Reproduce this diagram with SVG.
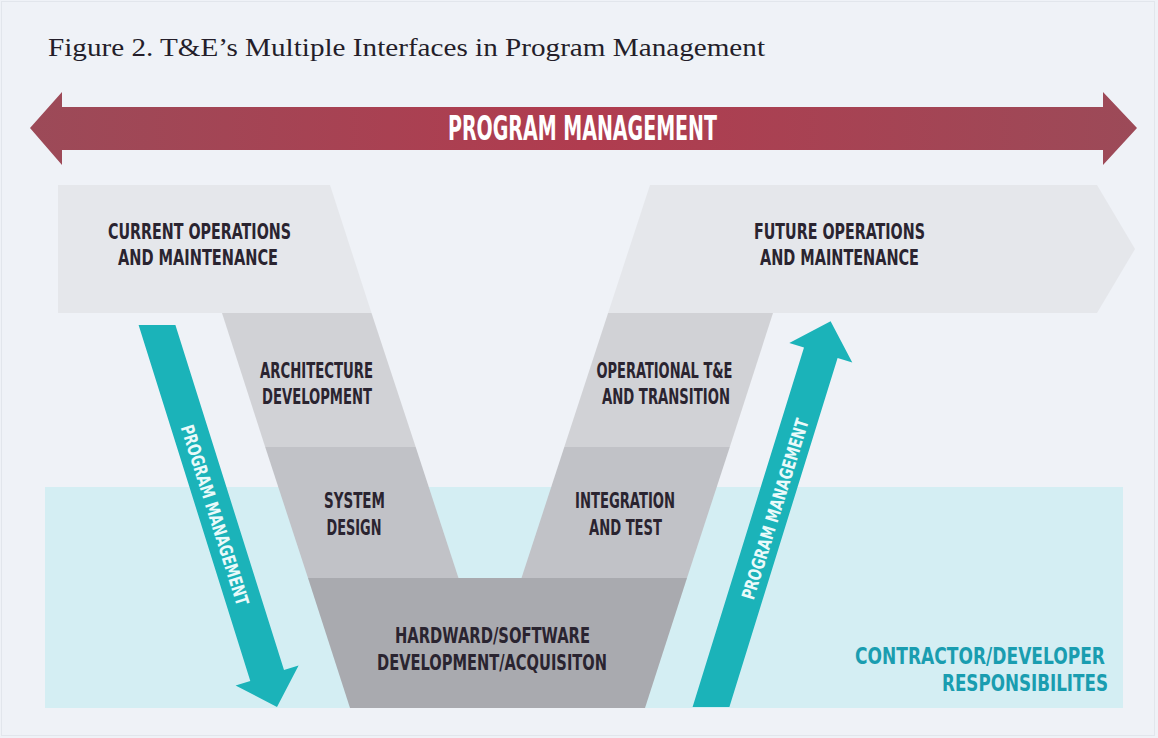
<svg xmlns="http://www.w3.org/2000/svg" width="1158" height="738" viewBox="0 0 1158 738">
  <defs>
    <linearGradient id="redGrad" x1="0" y1="0" x2="1" y2="0">
      <stop offset="0" stop-color="#9c4a58"/>
      <stop offset="0.5" stop-color="#b03c4f"/>
      <stop offset="1" stop-color="#9c4a58"/>
    </linearGradient>
  </defs>
  <style>
    .lbl { font-family: "Liberation Sans Narrow", "DejaVu Sans Condensed", "Liberation Sans", sans-serif; font-weight: bold; font-size: 21px; fill: #2a2430; text-anchor: middle; }
    .pm { font-family: "Liberation Sans Narrow", "DejaVu Sans Condensed", "Liberation Sans", sans-serif; font-weight: bold; fill: #eafafa; text-anchor: middle; font-size: 18px; }
    .g1 { fill: #e5e7eb; }
    .g2 { fill: #d1d2d6; }
    .g3 { fill: #c1c2c7; }
    .g4 { fill: #a9aaaf; }
    .teal { fill: #1bb3b9; }
    .contr { font-family: "Liberation Sans Narrow", "DejaVu Sans Condensed", "Liberation Sans", sans-serif; font-weight: bold; font-size: 23px; fill: #1a9db0; text-anchor: middle; }
  </style>

  <rect x="0" y="0" width="1158" height="738" fill="#eff2f7"/>
  <rect x="1.5" y="1.5" width="1153" height="734" fill="none" stroke="#e2e6ec" stroke-width="1"/>

  <text id="title" x="48" y="56" font-family="Liberation Serif, serif" font-size="25" fill="#241e2a" textLength="717" lengthAdjust="spacingAndGlyphs">Figure 2. T&amp;E’s Multiple Interfaces in Program Management</text>

  <g id="program-management-bar">
    <polygon points="30,128 62,92 62,107 1103,107 1103,92 1137,128 1103,165 1103,150 62,150 62,165" fill="url(#redGrad)"/>
    <text x="582.5" y="140" font-family="Liberation Sans Narrow, DejaVu Sans Condensed, Liberation Sans, sans-serif" font-weight="bold" font-size="33" fill="#ffffff" text-anchor="middle" textLength="269" lengthAdjust="spacingAndGlyphs">PROGRAM MANAGEMENT</text>
  </g>

  <g id="contractor-zone">
    <rect x="45" y="487" width="1078" height="221" fill="#d4eef3"/>
    <text class="contr" x="980" y="664" font-size="22" textLength="250" lengthAdjust="spacingAndGlyphs">CONTRACTOR/DEVELOPER</text>
    <text class="contr" x="1025" y="691" textLength="166" lengthAdjust="spacingAndGlyphs">RESPONSIBILITES</text>
  </g>

  <g id="current-ops">
    <polygon class="g1" points="58,185 330,185 371.5,313 58,313"/>
    <text class="lbl" x="199.5" y="239" textLength="183" lengthAdjust="spacingAndGlyphs">CURRENT OPERATIONS</text>
    <text class="lbl" x="198" y="265" textLength="160" lengthAdjust="spacingAndGlyphs">AND MAINTENANCE</text>
  </g>

  <g id="architecture">
    <polygon class="g2" points="222,313 371.5,313 415.7,447 265.2,447"/>
    <text class="lbl" x="316.5" y="378" textLength="113" lengthAdjust="spacingAndGlyphs">ARCHITECTURE</text>
    <text class="lbl" x="317" y="404" textLength="110" lengthAdjust="spacingAndGlyphs">DEVELOPMENT</text>
  </g>

  <g id="system-design">
    <polygon class="g3" points="265.2,447 415.7,447 458.5,578 308,578"/>
    <text class="lbl" x="354.5" y="508" textLength="61" lengthAdjust="spacingAndGlyphs">SYSTEM</text>
    <text class="lbl" x="354" y="535" textLength="55" lengthAdjust="spacingAndGlyphs">DESIGN</text>
  </g>

  <g id="hw-sw">
    <polygon class="g4" points="308,578 687,578 645,708 350,708"/>
    <text class="lbl" x="492.5" y="643" textLength="195" lengthAdjust="spacingAndGlyphs">HARDWARD/SOFTWARE</text>
    <text class="lbl" x="492" y="670" textLength="230" lengthAdjust="spacingAndGlyphs">DEVELOPMENT/ACQUISITON</text>
  </g>

  <g id="integration">
    <polygon class="g3" points="564.3,447 729.8,447 687,578 521.5,578"/>
    <text class="lbl" x="625" y="508" textLength="100" lengthAdjust="spacingAndGlyphs">INTEGRATION</text>
    <text class="lbl" x="625.5" y="535" textLength="73" lengthAdjust="spacingAndGlyphs">AND TEST</text>
  </g>

  <g id="operational-te">
    <polygon class="g2" points="608.1,313 773,313 729.8,447 564.3,447"/>
    <text class="lbl" x="664.5" y="378" textLength="136" lengthAdjust="spacingAndGlyphs">OPERATIONAL T&amp;E</text>
    <text class="lbl" x="666" y="404" textLength="128" lengthAdjust="spacingAndGlyphs">AND TRANSITION</text>
  </g>

  <g id="future-ops">
    <polygon class="g1" points="650,185 1097,185 1135,249 1097,313 608.1,313"/>
    <text class="lbl" x="839.5" y="239" textLength="171" lengthAdjust="spacingAndGlyphs">FUTURE OPERATIONS</text>
    <text class="lbl" x="839.5" y="265" textLength="159" lengthAdjust="spacingAndGlyphs">AND MAINTENANCE</text>
  </g>

  <g id="connectors">
    <g id="pm-down">
      <polygon class="teal" points="138.6,325 175.4,325 284,670 298.6,665.6 277,707 235.6,685.4 250.3,681"/>
      <text class="pm" x="0" y="6.5" transform="translate(215,515) rotate(72.5)" textLength="188" lengthAdjust="spacingAndGlyphs">PROGRAM MANAGEMENT</text>
    </g>
    <g id="pm-up">
      <polygon class="teal" points="692.6,707 729.4,707 837.6,357.9 852.3,362.5 830.6,321.2 789.3,342.9 804,347.5"/>
      <text class="pm" x="0" y="6.5" transform="translate(775,509) rotate(-72.8)" textLength="188" lengthAdjust="spacingAndGlyphs">PROGRAM MANAGEMENT</text>
    </g>
  </g>
</svg>
